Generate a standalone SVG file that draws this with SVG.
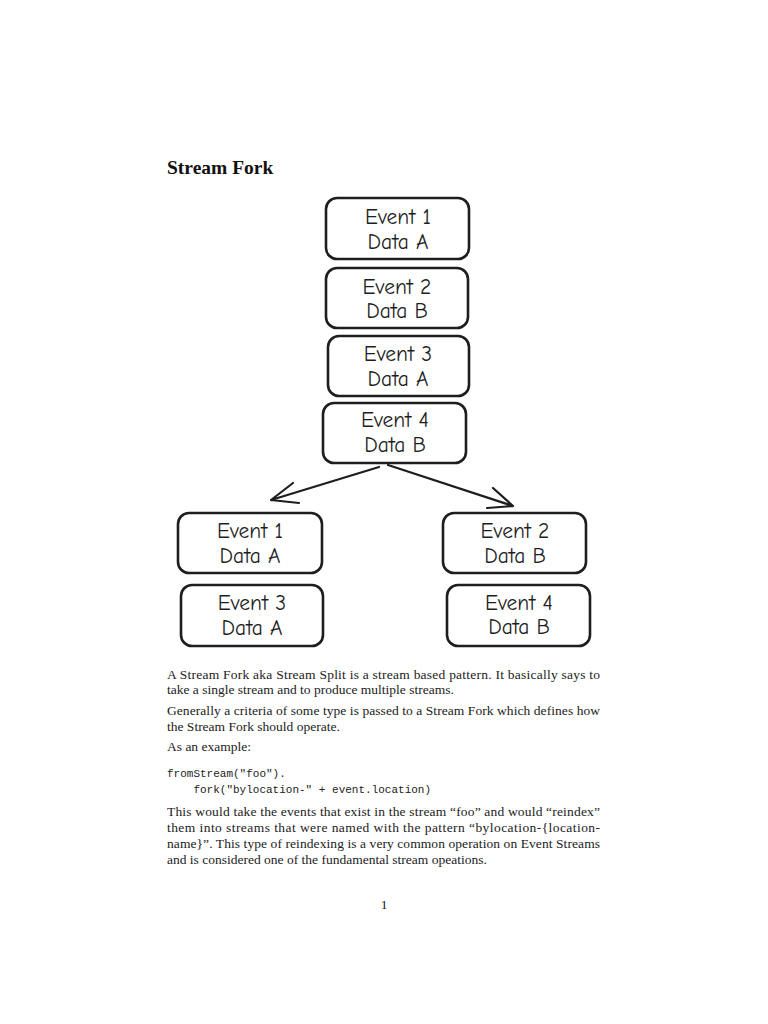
<svg xmlns="http://www.w3.org/2000/svg" width="768" height="1024" viewBox="0 0 768 1024">
<style>
.box{fill:#fff;stroke:#1e1e1e;stroke-width:2.6}
.hand{font-family:"Comic Neue","Noto Sans","DejaVu Sans",sans-serif;font-size:21.5px;fill:#1e1e1e;text-anchor:middle}
.body{font-family:"Liberation Serif","DejaVu Serif",serif;font-size:13.5px;fill:#222}
.mono{font-family:"Liberation Mono","DejaVu Sans Mono",monospace;font-size:11px;fill:#222}
.conn{fill:none;stroke:#1e1e1e;stroke-width:2.2;stroke-linecap:round;stroke-linejoin:round}
</style>
<rect width="768" height="1024" fill="#fff"/>
<text x="167" y="174" font-family="Liberation Serif,DejaVu Serif,serif" font-size="19.5" font-weight="bold" fill="#111">Stream Fork</text>

<g id="e1"><rect class="box" x="326" y="198" width="143" height="61" rx="11"/><text class="hand" x="398" y="224">Event 1</text><text class="hand" x="398" y="249">Data A</text></g>
<g id="e2"><rect class="box" x="326" y="268" width="142" height="60" rx="11"/><text class="hand" x="397" y="294">Event 2</text><text class="hand" x="397" y="318">Data B</text></g>
<g id="e3"><rect class="box" x="328" y="336" width="141" height="60" rx="11"/><text class="hand" x="398" y="361">Event 3</text><text class="hand" x="398" y="386">Data A</text></g>
<g id="e4"><rect class="box" x="323" y="403" width="143" height="60" rx="11"/><text class="hand" x="395" y="427">Event 4</text><text class="hand" x="395" y="452">Data B</text></g>

<g id="l1"><rect class="box" x="178" y="513" width="144" height="60" rx="11"/><text class="hand" x="250" y="538">Event 1</text><text class="hand" x="250" y="563">Data A</text></g>
<g id="l2"><rect class="box" x="181" y="585" width="142" height="61" rx="11"/><text class="hand" x="252" y="610">Event 3</text><text class="hand" x="252" y="635">Data A</text></g>
<g id="r1"><rect class="box" x="443" y="513" width="143" height="60" rx="11"/><text class="hand" x="515" y="538">Event 2</text><text class="hand" x="515" y="563">Data B</text></g>
<g id="r2"><rect class="box" x="447" y="585" width="143" height="61" rx="11"/><text class="hand" x="519" y="610">Event 4</text><text class="hand" x="519" y="634">Data B</text></g>

<g id="connectors">
<path class="conn" d="M379 467 L271 500 M271 500 L293 483 M271 500 L299 503"/>
<path class="conn" d="M388 465 L513 506 M513 506 L493 488 M513 506 L487 508"/>
</g>

<g id="text">
<text class="body" x="167" y="679" textLength="433" lengthAdjust="spacing">A Stream Fork aka Stream Split is a stream based pattern. It basically says to</text>
<text class="body" x="167" y="694">take a single stream and to produce multiple streams.</text>
<text class="body" x="167" y="715" textLength="433" lengthAdjust="spacing">Generally a criteria of some type is passed to a Stream Fork which defines how</text>
<text class="body" x="167" y="731">the Stream Fork should operate.</text>
<text class="body" x="167" y="751">As an example:</text>
<text class="mono" x="167" y="777">fromStream("foo").</text>
<text class="mono" x="167" y="793" xml:space="preserve">    fork("bylocation-" + event.location)</text>
<text class="body" x="167" y="816" textLength="433" lengthAdjust="spacing">This would take the events that exist in the stream “foo” and would “reindex”</text>
<text class="body" x="167" y="832" textLength="433" lengthAdjust="spacing">them into streams that were named with the pattern “bylocation-{location-</text>
<text class="body" x="167" y="848" textLength="433" lengthAdjust="spacing">name}”. This type of reindexing is a very common operation on Event Streams</text>
<text class="body" x="167" y="864">and is considered one of the fundamental stream opeations.</text>
<text class="body" x="384" y="909" text-anchor="middle">1</text>
</g>
</svg>
